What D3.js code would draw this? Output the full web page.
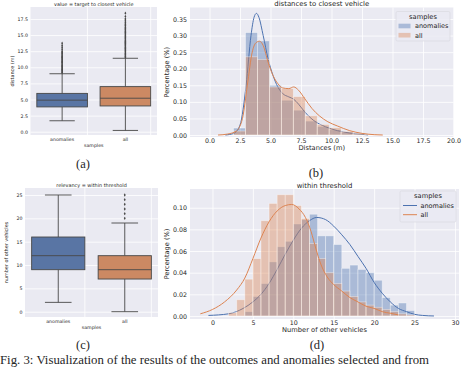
<!DOCTYPE html>
<html><head><meta charset="utf-8">
<script src="https://cdn.jsdelivr.net/npm/d3@7"></script>
<style>
body{margin:0;background:#fff;}
svg{display:block;}
text{font-family:"DejaVu Sans",sans-serif;fill:#262626;}
</style>
</head><body>
<svg id="c" width="474" height="367"></svg>
<script>
// ---------------- DATA ----------------
const boxCats = ["anomalies", "all"];
// (a) value = target to closest vehicle (distance, m)
const distLow  = [1.7, 0.2];
const distQ1   = [3.85, 4.0];
const distMed  = [4.9, 5.2];
const distQ3   = [5.95, 7.0];
const distHigh = [9.0, 11.4];
const distFliersAnom = [9.15, 9.3, 9.5, 9.65, 9.8, 10.0, 10.15, 10.3, 10.5, 10.7, 10.85, 11.0, 11.2, 11.4, 11.55, 11.7, 11.9, 12.1, 12.3, 12.5, 12.8, 13.1, 13.4, 13.75];
const distFliersAll = [11.55, 11.7, 11.9, 12.05, 12.2, 12.4, 12.6, 12.8, 12.95, 13.1, 13.3, 13.5, 13.7, 13.85, 14.0, 14.2, 14.4, 14.6, 14.8, 15.0, 15.2, 15.4, 15.6, 15.8, 16.0, 16.2, 16.45, 16.7, 16.9, 17.2, 17.5, 17.9, 18.4];
const distBoxTicks = [0, 2.5, 5, 7.5, 10, 12.5, 15, 17.5];

// (c) relevancy = within threshold (number of other vehicles)
const nbLow  = [2, 0];
const nbQ1   = [9, 7];
const nbMed  = [12, 9];
const nbQ3   = [16, 12];
const nbHigh = [25, 19];
const nbFliersAnom = [];
const nbFliersAll = [20, 21, 22, 23, 24, 25];
const nbBoxTicks = [0, 5, 10, 15, 20, 25];

// (b) distances to closest vehicle: histogram + kde
const distBinEdges = [1.97, 2.95, 3.93, 4.91, 5.89, 6.87, 7.85, 8.83, 9.81, 10.79, 11.77, 12.75, 13.73];
const distHistAnom = [0.021, 0.309, 0.284, 0.150, 0.105, 0.075, 0.042, 0.026, 0.016, 0.008, 0.003, 0];
const distHistAll  = [0.012, 0.236, 0.228, 0.145, 0.140, 0.116, 0.058, 0.032, 0.022, 0.011, 0.005, 0.002];
const distKdeAnom = [[1.3,0],[2.0,0.005],[2.5,0.03],[3.0,0.15],[3.4,0.30],[3.65,0.355],[3.85,0.367],[4.05,0.355],[4.4,0.30],[4.8,0.23],[5.2,0.18],[5.6,0.145],[6.0,0.125],[6.5,0.115],[6.9,0.108],[7.3,0.093],[7.8,0.07],[8.5,0.045],[9.5,0.025],[10.5,0.013],[11.5,0.006],[12.5,0.002],[13,0]];
const distKdeAll  = [[0.7,0],[1.5,0.003],[2.2,0.012],[2.7,0.05],[3.1,0.15],[3.5,0.25],[3.8,0.278],[4.1,0.283],[4.4,0.27],[4.8,0.22],[5.2,0.18],[5.6,0.155],[6.0,0.142],[6.5,0.14],[6.9,0.145],[7.3,0.135],[7.8,0.11],[8.4,0.08],[9.0,0.058],[9.7,0.04],[10.5,0.027],[11.5,0.013],[12.5,0.005],[13.5,0.001],[14.2,0]];
const distXTicks = [0, 2.5, 5, 7.5, 10, 12.5, 15, 17.5, 20];
const distYTicks = [0, 0.05, 0.10, 0.15, 0.20, 0.25, 0.30, 0.35];

// (d) within threshold: histogram + fitted curves
const nbBinEdges = [2,3,4,5,6,7,8,9,10,11,12,13,14,15,16,17,18,19,20,21,22,23,24,25];
const nbHistAnom = [0, 0, 0.004, 0.018, 0.030, 0.050, 0.064, 0.069, 0.085, 0.089, 0.094, 0.074, 0.074, 0.066, 0.044, 0.047, 0.043, 0.040, 0.033, 0.017, 0.010, 0.012, 0.005];
const nbHistAll  = [0.003, 0.015, 0.034, 0.053, 0.088, 0.104, 0.112, 0.112, 0.102, 0.090, 0.067, 0.053, 0.040, 0.030, 0.023, 0.018, 0.013, 0.010, 0.008, 0.006, 0.004, 0.002, 0.001];
const nbKdeAnom = [[-0.5,0.0005],[2,0.002],[3.8,0.007],[5,0.013],[6,0.020],[7,0.030],[8,0.043],[9,0.057],[10,0.070],[11,0.081],[12,0.088],[12.9,0.091],[14,0.089],[15,0.083],[16,0.075],[17,0.066],[18,0.055],[19,0.044],[20,0.031],[21,0.021],[22,0.013],[23,0.007],[24,0.004],[25,0.0015],[26,0.0005],[27.4,0]];
const nbKdeAll  = [[-1.5,0.002],[0,0.006],[1.5,0.013],[3,0.024],[4,0.035],[5,0.053],[6,0.072],[7,0.087],[8,0.097],[9,0.102],[9.8,0.103],[10.7,0.099],[11.5,0.091],[12.2,0.078],[12.8,0.062],[13.4,0.048],[14.2,0.036],[15,0.029],[16,0.023],[17,0.017],[18,0.013],[19,0.009],[20,0.007],[21,0.004],[22,0.0025],[23,0.001]];
const nbXTicks = [0, 5, 10, 15, 20, 25, 30];
const nbYTicks = [0, 0.02, 0.04, 0.06, 0.08, 0.10];

const legendLabels = ["anomalies", "all"];

// ---------------- STYLE ----------------
const BG = "#eaeaf2", BLUE = "#4c72b0", ORANGE = "#dd8452";
const BOXCOL = ["#5975a4", "#cc8963"], LINEGRAY = "#474747";

const svg = d3.select("#c");

function bg(P) {
  svg.append("rect").attr("x", P.l).attr("y", P.t).attr("width", P.r - P.l).attr("height", P.b - P.t).attr("fill", BG);
}
function hGrid(P, y, ticks) {
  const g = svg.append("g").attr("transform", `translate(${P.l},0)`)
    .call(d3.axisLeft(y).tickValues(ticks).tickSize(-(P.r - P.l)).tickFormat(""));
  g.select(".domain").remove();
  g.selectAll("line").attr("stroke", "#fff").attr("stroke-width", 0.8);
}
function vGrid(P, x, ticks) {
  const g = svg.append("g").attr("transform", `translate(0,${P.b})`)
    .call(d3.axisBottom(x).tickValues(ticks).tickSize(-(P.b - P.t)).tickFormat(""));
  g.select(".domain").remove();
  g.selectAll("line").attr("stroke", "#fff").attr("stroke-width", 0.8);
}
function yAxis(P, y, ticks, fmt, fs, pad) {
  const g = svg.append("g").attr("transform", `translate(${P.l},0)`)
    .call(d3.axisLeft(y).tickValues(ticks).tickSize(0).tickPadding(pad).tickFormat(fmt));
  g.select(".domain").remove();
  g.selectAll("text").style("font-size", fs + "px").style("font-family", "DejaVu Sans").attr("fill", "#262626");
}
function xAxis(P, x, ticks, fmt, fs, pad) {
  const g = svg.append("g").attr("transform", `translate(0,${P.b})`)
    .call(d3.axisBottom(x).tickValues(ticks).tickSize(0).tickPadding(pad).tickFormat(fmt));
  g.select(".domain").remove();
  g.selectAll("text").style("font-size", fs + "px").style("font-family", "DejaVu Sans").attr("fill", "#262626");
}
function label(txt, x, y, fs, rot) {
  const t = svg.append("text").attr("text-anchor", "middle").style("font-size", fs + "px").text(txt);
  if (rot) t.attr("transform", `translate(${x},${y}) rotate(-90)`);
  else t.attr("x", x).attr("y", y);
  return t;
}

function boxPanel(P, yDom, ticks, fmt, lo, q1, med, q3, hi, fliers, title, ylab) {
  const x = d3.scaleBand().domain(boxCats).range([P.l, P.r]).paddingInner(0.2).paddingOuter(0.1);
  const y = d3.scaleLinear().domain(yDom).range([P.b, P.t]);
  bg(P);
  hGrid(P, y, ticks);
  const g0 = svg.append("g").attr("transform", `translate(${x.bandwidth() / 2},${P.b})`)
    .call(d3.axisBottom(x).tickSize(-(P.b - P.t)).tickFormat(""));
  g0.select(".domain").remove();
  g0.selectAll("line").attr("stroke", "#fff").attr("stroke-width", 0.8);

  boxCats.forEach((c, i) => {
    const w = x.bandwidth(), x0 = x(c), cx = x0 + w / 2;
    const g = svg.append("g");
    const ln = (x1, y1, x2, y2) => g.append("line").attr("x1", x1).attr("y1", y1).attr("x2", x2).attr("y2", y2)
      .attr("stroke", LINEGRAY).attr("stroke-width", 0.9);
    ln(cx, y(lo[i]), cx, y(q1[i]));
    ln(cx, y(q3[i]), cx, y(hi[i]));
    ln(cx - w / 4, y(lo[i]), cx + w / 4, y(lo[i]));
    ln(cx - w / 4, y(hi[i]), cx + w / 4, y(hi[i]));
    g.append("rect").attr("x", x0).attr("y", y(q3[i])).attr("width", w).attr("height", y(q1[i]) - y(q3[i]))
      .attr("fill", BOXCOL[i]).attr("stroke", LINEGRAY).attr("stroke-width", 0.9);
    ln(x0, y(med[i]), x0 + w, y(med[i]));
    g.selectAll("path.f").data(fliers[i]).join("path")
      .attr("d", d3.symbol(d3.symbolDiamond, 3.2))
      .attr("transform", v => `translate(${cx},${y(v)})`)
      .attr("fill", LINEGRAY);
  });
  yAxis(P, y, ticks, fmt, 4.7, 2.5);
  xAxis(P, x, boxCats, d => d, 4.7, 2.8);
  label(title, (P.l + P.r) / 2, P.t - 1.2, 4.9);
  label(ylab, P.l - 17, (P.t + P.b) / 2, 4.9, true);
  label("samples", (P.l + P.r) / 2, P.b + 12, 4.7);
}

function histPanel(P, xDom, yDom, xt, yt, xfmt, yfmt, edges, hA, hB, kA, kB, title, xlab) {
  const x = d3.scaleLinear().domain(xDom).range([P.l, P.r]);
  const y = d3.scaleLinear().domain(yDom).range([P.b, P.t]);
  bg(P);
  hGrid(P, y, yt);
  vGrid(P, x, xt);
  const line = d3.line().x(d => x(d[0])).y(d => y(d[1])).curve(d3.curveMonotoneX);
  const series = [[hA, kA, BLUE], [hB, kB, ORANGE]];
  series.forEach(([h, k, col]) => {
    svg.append("g").selectAll("rect").data(h).join("rect")
      .attr("x", (d, i) => x(edges[i]))
      .attr("width", (d, i) => x(edges[i + 1]) - x(edges[i]))
      .attr("y", d => y(d))
      .attr("height", d => y(0) - y(d))
      .attr("fill", col).attr("fill-opacity", 0.4)
      .attr("stroke", "#fff").attr("stroke-opacity", 0.45).attr("stroke-width", 0.8);
    svg.append("path").datum(k).attr("d", line).attr("fill", "none").attr("stroke", col).attr("stroke-width", 1);
  });
  yAxis(P, y, yt, yfmt, 6.3, 3);
  xAxis(P, x, xt, xfmt, 6.3, 1.8);
  label(title, (P.l + P.r) / 2, P.t - 1.5, 6.9);
  label(xlab, (P.l + P.r) / 2, P.b + 12.5, 6.7);
  label("Percentage (%)", P.l - 21, (P.t + P.b) / 2, 6.6, true);
}

function legend(L, kind) {
  svg.append("rect").attr("x", L.x).attr("y", L.y).attr("width", L.w).attr("height", L.h).attr("rx", 1.5)
    .attr("fill", BG).attr("fill-opacity", 0.8).attr("stroke", "#d6d6de").attr("stroke-width", 0.6);
  label("samples", L.x + L.w / 2, L.y + 7.3, 6.7);
  [BLUE, ORANGE].forEach((c, i) => {
    const yy = L.y + 14.5 + i * 9.2;
    if (kind === "patch") {
      svg.append("rect").attr("x", L.x + 2.5).attr("y", yy - 2.3).attr("width", 12).attr("height", 4.6)
        .attr("fill", c).attr("fill-opacity", 0.4);
    } else {
      svg.append("line").attr("x1", L.x + 3).attr("x2", L.x + 17).attr("y1", yy).attr("y2", yy)
        .attr("stroke", c).attr("stroke-width", 1);
    }
    svg.append("text").attr("x", L.x + (kind === "patch" ? 19 : 20.5)).attr("y", yy + 2.3)
      .style("font-size", "6.5px").text(legendLabels[i]);
  });
}

// ---------------- PANELS ----------------
boxPanel({l: 30.5, r: 157, t: 7, b: 135}, [-0.51, 19.36], distBoxTicks, d3.format(".1f"),
  distLow, distQ1, distMed, distQ3, distHigh, [distFliersAnom, distFliersAll],
  "value = target to closest vehicle", "distance (m)");

boxPanel({l: 25, r: 158, t: 188, b: 317}, [-1.135, 26.5], nbBoxTicks, d3.format("d"),
  nbLow, nbQ1, nbMed, nbQ3, nbHigh, [nbFliersAnom, nbFliersAll],
  "relevancy = within threshold", "number of other vehicles");

histPanel({l: 190, r: 453.5, t: 7.5, b: 137}, [-1.6, 20], [-0.006, 0.3847], distXTicks, distYTicks,
  d3.format(".1f"), d3.format(".2f"), distBinEdges, distHistAnom, distHistAll, distKdeAnom, distKdeAll,
  "distances to closest vehicle", "Distances (m)");
legend({x: 396, y: 11.5, w: 54, h: 29.5}, "patch");

histPanel({l: 190, r: 459, t: 189, b: 319}, [-2.78, 30.5], [-0.0028, 0.1173], nbXTicks, nbYTicks,
  d3.format("d"), d3.format(".2f"), nbBinEdges, nbHistAnom, nbHistAll, nbKdeAnom, nbKdeAll,
  "within threshold", "Number of other vehicles");
legend({x: 400, y: 191, w: 56, h: 31}, "line");

// sub-captions
const serif = "'Liberation Serif','Times New Roman',serif";
[["(a)", 83, 168], ["(b)", 316, 177], ["(c)", 83, 348.5], ["(d)", 317, 349]].forEach(([t, x, y]) => {
  svg.append("text").attr("x", x).attr("y", y).attr("text-anchor", "middle")
    .style("font-family", serif).style("font-size", "12.5px").attr("fill", "#111").text(t);
});
svg.append("text").attr("x", 0).attr("y", 363.5).style("font-family", serif).style("font-size", "12.8px").attr("fill", "#111")
  .text("Fig. 3: Visualization of the results of the outcomes and anomalies selected and from");
</script>
</body></html>
